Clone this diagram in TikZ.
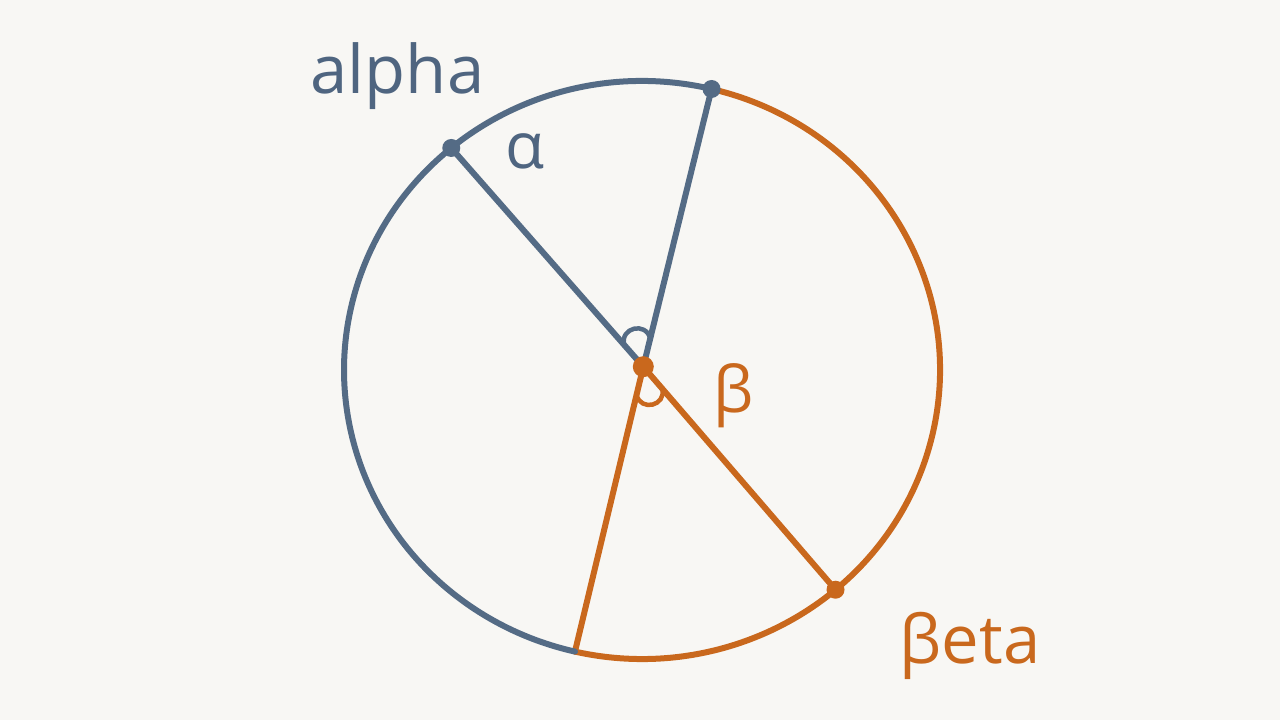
\documentclass[tikz,border=0pt]{standalone}
\usepackage{fontspec}
\setmainfont{Open Sans}
\usetikzlibrary{calc}
\definecolor{bg}{HTML}{F8F7F4}
\definecolor{slate}{HTML}{546B85}
\definecolor{slatetext}{HTML}{4F6580}
\definecolor{rust}{HTML}{C9681D}
\tikzset{
  slateline/.style={draw=slate, line width=6pt, line cap=round},
  rustline/.style={draw=rust, line width=6pt, line cap=round},
  markline/.style={line width=4.5pt},
  enddot/.style={circle, inner sep=0pt, minimum size=18pt},
  centerdot/.style={circle, inner sep=0pt, minimum size=21pt, fill=rust},
  biglabel/.style={font=\fontsize{67}{67}\selectfont, inner sep=0pt},
  greeklabel/.style={font=\fontsize{64}{64}\selectfont, inner sep=0pt}
}
\begin{document}
\begin{tikzpicture}[x=1pt,y=1pt]
  \useasboundingbox[fill=bg] (0,0) rectangle (1280,720);
  % ellipse centre and points on the rim
  \coordinate (E) at (642,350);
  \coordinate (C) at (643.3,353.3);
  \coordinate (A) at ($(E)+(129.8:298 and 289)$);
  \coordinate (T) at ($(E)+(76.5:298 and 289)$);
  \coordinate (B) at ($(E)+(-49.5:298 and 289)$);
  \coordinate (D) at ($(E)+(-103:298 and 289)$);
  % radii
  \draw[slateline] (C) -- (A);
  \draw[slateline] (C) -- (T);
  \draw[rustline] (C) -- (B);
  \draw[rustline] (C) -- (D);
  % rim
  \draw[rustline] (T) arc[start angle=76.5, end angle=-103, x radius=298pt, y radius=289pt];
  \draw[slateline] (T) arc[start angle=76.5, end angle=257, x radius=298pt, y radius=289pt];
  % angle marks
  \coordinate (a1) at ($(C)!29pt!(A)$);
  \coordinate (a2) at ($(C)!29pt!(T)$);
  \coordinate (b1) at ($(C)!29pt!(D)$);
  \coordinate (b2) at ($(C)!29pt!(B)$);
  \draw[slate, markline] (a1) to[out=104, in=104, looseness=1.7] (a2);
  \draw[rust, markline] (b1) to[out=-76, in=-76, looseness=1.7] (b2);
  % dots
  \node[enddot, fill=slate] (dA) at (A) {};
  \node[enddot, fill=slate] (dT) at (T) {};
  \node[enddot, fill=rust] (dB) at (B) {};
  \node[centerdot] (dC) at (C) {};
  % labels
  \node[biglabel, text=slatetext, anchor=base] (lalpha) at (397.5,626.7) {alpha};
  \node[greeklabel, text=slatetext] (galpha) at (525,568.3) {α};
  \node[greeklabel, text=rust] (gbeta) at (733.5,324) {β};
  \node[biglabel, text=rust, anchor=base] (lbeta) at (970,56.7) {βeta};
\end{tikzpicture}
\end{document}
